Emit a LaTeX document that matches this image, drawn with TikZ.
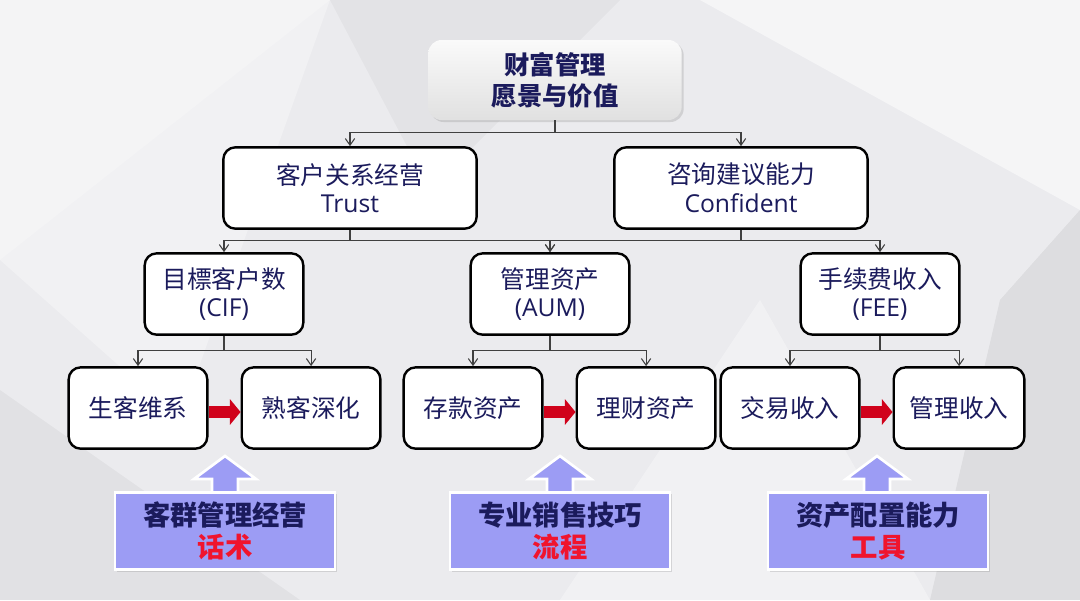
\documentclass[tikz,border=0pt]{standalone}
\usepackage{fontspec}
\setmainfont{Open Sans}
\newfontfamily\cjk{Noto Sans CJK SC}
\usetikzlibrary{positioning,arrows.meta,shadows,calc}
\definecolor{navy}{HTML}{1B1B5C}
\definecolor{hotred}{HTML}{F0142D}
\definecolor{lilac}{HTML}{9C9CF4}
\definecolor{pushred}{HTML}{D0021B}
\definecolor{bggray}{HTML}{EBEBEE}

\begin{document}
\begin{tikzpicture}[x=0.75pt, y=-0.75pt,
  box/.style={draw=black, line width=1.8pt, rounded corners=9pt, fill=white,
    text=navy, align=center, inner sep=0pt, font=\fontsize{18.5}{21.5}\selectfont},
  wide/.style={box, minimum width=190pt, minimum height=61pt},
  mid/.style={box, minimum width=119pt, minimum height=61pt},
  leaf/.style={box, minimum width=104pt, minimum height=61pt},
  vision/.style={rounded corners=10pt, top color=white!96!gray, bottom color=black!12,
    draw=none, text=navy, align=center, minimum width=190pt, minimum height=60pt,
    font=\fontsize{19}{23}\selectfont\cjk\bfseries,
    drop shadow={opacity=0.25, shadow xshift=1.5pt, shadow yshift=-1.5pt}},
  skill/.style={fill=lilac, draw=white, line width=2pt, text=navy, align=center,
    minimum width=165pt, minimum height=58pt, inner sep=0pt,
    font=\fontsize{20.5}{24}\selectfont\cjk\bfseries,
    drop shadow={opacity=0.25, shadow xshift=1.5pt, shadow yshift=-1.5pt}},
  link/.style={draw=black!75, line width=0.8pt, -{Straight Barb[length=5pt,width=7pt]}},
  push/.style={draw=pushred, line width=9.5pt, -{Triangle[length=8pt,width=19pt]}},
  lift/.style={fill=lilac, draw=white, line width=2pt, line join=miter}
]
% background
\fill[bggray] (0,0) rectangle (1080,600);
\fill[white, opacity=0.45] (0,0) -- (330,0) -- (0,260) -- cycle;
\fill[white, opacity=0.30] (0,260) -- (330,0) -- (180,420) -- cycle;
\fill[black, opacity=0.03] (330,0) -- (620,0) -- (430,190) -- cycle;
\fill[white, opacity=0.50] (700,0) -- (1080,0) -- (1080,210) -- cycle;
\fill[black, opacity=0.06] (1080,210) -- (1080,600) -- (930,600) -- (1000,300) -- cycle;
\fill[black, opacity=0.04] (0,390) -- (300,600) -- (0,600) -- cycle;
\fill[white, opacity=0.35] (560,600) -- (760,300) -- (930,600) -- cycle;
\useasboundingbox (0,0) rectangle (1080,600);

% top
\node[vision] (vision) at (555,80) {财富管理\\愿景与价值};

% second row
\node[wide] (trust) at (350,188) {{\cjk 客户关系经营}\\Trust};
\node[wide] (conf) at (741,188) {{\cjk 咨询建议能力}\\Confident};

% third row
\node[mid] (cif) at (224,294) {{\cjk 目標客户数}\\(CIF)};
\node[mid] (aum) at (550,294) {{\cjk 管理资产}\\(AUM)};
\node[mid] (fee) at (880,294) {{\cjk 手续费收入}\\(FEE)};

% fourth row
\node[leaf] (newc) at (138,408) {\cjk 生客维系};
\node[leaf, right=24pt of newc] (oldc) {\cjk 熟客深化};
\node[leaf] (depo) at (473,408) {\cjk 存款资产};
\node[leaf, right=24pt of depo] (wmp) {\cjk 理财资产};
\node[leaf] (trade) at (790,408) {\cjk 交易收入};
\node[leaf, minimum width=98pt, right=24pt of trade] (mgmt) {\cjk 管理收入};

% connectors
\draw[link] (vision.south) -- ++(0,-9pt) -| (trust.north);
\draw[link] (vision.south) -- ++(0,-9pt) -| (conf.north);
\draw[link] (trust.south) -- ++(0,-8pt) -| (cif.north);
\draw[link] (trust.south) -- ++(0,-8pt) -| (aum.north);
\draw[link] (conf.south) -- ++(0,-8pt) -| (aum.north);
\draw[link] (conf.south) -- ++(0,-8pt) -| (fee.north);
\foreach \p/\a/\b in {cif/newc/oldc, aum/depo/wmp, fee/trade/mgmt} {
  \draw[link] (\p.south) -- ++(0,-11pt) -| (\a.north);
  \draw[link] (\p.south) -- ++(0,-11pt) -| (\b.north);
}
\draw[push] ([yshift=-3pt]newc.east) -- ([yshift=-3pt]oldc.west);
\draw[push] ([yshift=-3pt]depo.east) -- ([yshift=-3pt]wmp.west);
\draw[push] ([yshift=-3pt]trade.east) -- ([yshift=-3pt]mgmt.west);

% bottom
\foreach \n/\x in {talk/225, flow/560, tool/877} {
  \coordinate (\n base) at (\x,493);
  \draw[lift] ($(\n base)+(-13,0)$) -- ++(0,-14) -- ++(-18,0) -- ($(\n base)+(0,-37)$)
    -- ($(\n base)+(31,-14)$) -- ++(-18,0) -- ($(\n base)+(13,0)$);
}
\node[skill] (talk) at (225,531) {客群管理经营\\\textcolor{hotred}{话术}};
\node[skill] (flow) at (560,531) {专业销售技巧\\\textcolor{hotred}{流程}};
\node[skill] (tool) at (878,531) {资产配置能力\\\textcolor{hotred}{工具}};
\end{tikzpicture}
\end{document}
